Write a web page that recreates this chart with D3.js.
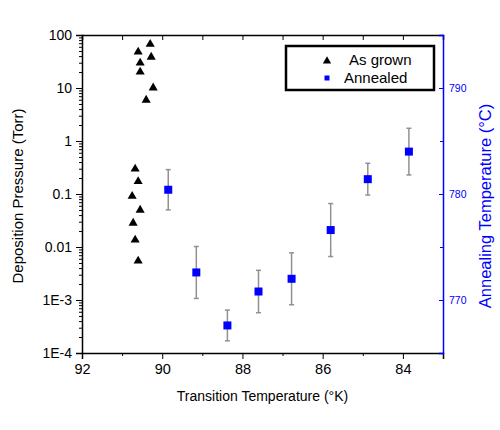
<!DOCTYPE html>
<html>
<head>
<meta charset="utf-8">
<script src="https://cdn.jsdelivr.net/npm/d3@7"></script>
<style>
  body { margin: 0; background: #fff; }
  svg { display: block; font-family: "Liberation Sans", Arial, sans-serif; }
</style>
</head>
<body>
<svg id="chart" width="500" height="430"></svg>
<script>
// As grown samples: transition temperature (K) vs deposition pressure (Torr)
const grownT = [90.3, 90.6, 90.275, 90.55, 90.55, 90.225, 90.4, 90.675, 90.6, 90.75, 90.55, 90.725, 90.675, 90.6];
const grownP = [70, 50, 40, 31, 21, 10.5, 6.2, 0.31, 0.18, 0.095, 0.052, 0.0295, 0.0142, 0.0057];

// Annealed samples: transition temperature (K) vs annealing temperature (C) +/- error
const annT = [89.85, 89.15, 88.375, 87.6, 86.775, 85.8, 84.875, 83.85];
const annTemp = [780.4, 772.6, 767.6, 770.8, 772.0, 776.6, 781.4, 784.0];
const annErr = [1.9, 2.45, 1.45, 2.0, 2.45, 2.5, 1.5, 2.2];

// tick labels
const xTicks = [92, 90, 88, 86, 84];
const pTicks = [100, 10, 1, 0.1, 0.01, 0.001, 0.0001];
const pTickLabels = ["100", "10", "1", "0.1", "0.01", "1E-3", "1E-4"];
const rTicks = [770, 780, 790];

const svg = d3.select("#chart");
const pLeft = 82, pRight = 443, pTop = 35, pBottom = 353;

const x = d3.scaleLinear().domain([92, 83]).range([pLeft, pRight]);
const y = d3.scaleLog().domain([1e-4, 100]).range([pBottom, pTop]);
const yR = d3.scaleLinear().domain([765, 795]).range([pBottom, pTop]);

const blue = "#0000ff";

// bottom axis, major + minor
const gx = svg.append("g").attr("transform", `translate(0,${pBottom})`);
gx.call(d3.axisBottom(x).tickValues(xTicks).tickSize(6).tickPadding(5).tickFormat(d3.format("d")));
svg.append("g").attr("transform", `translate(0,${pBottom})`)
  .call(d3.axisBottom(x).tickValues([91, 89, 87, 85]).tickSize(3).tickFormat(""))
  .call(g => g.select(".domain").remove());
gx.selectAll("text").attr("font-size", 14.5).attr("fill", "#000");

// top axis, inward ticks
svg.append("g").attr("transform", `translate(0,${pTop})`)
  .call(d3.axisTop(x).tickValues([91, 90, 89, 88, 87, 86, 85, 84]).tickSize(-5).tickFormat(""));

// left log axis
const gy = svg.append("g").attr("transform", `translate(${pLeft},0)`);
gy.call(d3.axisLeft(y).tickValues(pTicks).tickSize(6).tickPadding(4)
  .tickFormat((d, i) => pTickLabels[i]));
gy.selectAll("text").attr("font-size", 14).attr("fill", "#000");
const minor = y.ticks().filter(v => !pTicks.some(p => Math.abs(v / p - 1) < 1e-6));
svg.append("g").attr("transform", `translate(${pLeft},0)`)
  .call(d3.axisLeft(y).tickValues(minor).tickSize(3).tickFormat(""))
  .call(g => g.select(".domain").remove());

// right axis (annealing temperature), inward ticks
const gr = svg.append("g").attr("class", "raxis").attr("transform", `translate(${pRight},0)`);
gr.call(d3.axisRight(yR).tickValues(rTicks).tickSize(-4).tickPadding(6).tickFormat(d3.format("d")));
svg.append("g").attr("class", "raxis").attr("transform", `translate(${pRight},0)`)
  .call(d3.axisRight(yR).tickValues([775, 785]).tickSize(-3).tickFormat(""))
  .call(g => g.select(".domain").remove());
gr.selectAll("text").attr("font-size", 10.5).attr("fill", blue);
svg.selectAll(".raxis").selectAll("path, line").attr("stroke", blue);

svg.selectAll(".domain").attr("stroke-width", 1.5);

// axis titles
svg.append("text")
  .attr("transform", `translate(${pLeft + (pRight - pLeft) / 2},401)`)
  .attr("text-anchor", "middle").attr("font-size", 14)
  .text("Transition Temperature (°K)");

svg.append("text")
  .attr("transform", "translate(23,196) rotate(-90)")
  .attr("text-anchor", "middle").attr("font-size", 15)
  .text("Deposition Pressure (Torr)");

svg.append("text")
  .attr("transform", "translate(491,206) rotate(-90)")
  .attr("text-anchor", "middle").attr("font-size", 16.5).attr("fill", blue)
  .text("Annealing Temperature (°C)");

// as grown triangles
const tri = d3.symbol().type(d3.symbolTriangle).size(36);
svg.append("g").selectAll("path")
  .data(grownT.map((t, i) => ({ t, p: grownP[i] })))
  .join("path")
  .attr("d", tri)
  .attr("transform", d => `translate(${x(d.t)},${y(d.p) + 1})`)
  .attr("fill", "#000");

// annealed squares with error bars
const ann = annT.map((t, i) => ({ t, v: annTemp[i], e: annErr[i] }));
const eb = svg.append("g").attr("stroke", "#919191").attr("stroke-width", 1.5);
ann.forEach(d => {
  const cx = x(d.t);
  eb.append("line").attr("x1", cx).attr("x2", cx).attr("y1", yR(d.v + d.e)).attr("y2", yR(d.v - d.e));
  eb.append("line").attr("x1", cx - 2.5).attr("x2", cx + 2.5).attr("y1", yR(d.v + d.e)).attr("y2", yR(d.v + d.e));
  eb.append("line").attr("x1", cx - 2.5).attr("x2", cx + 2.5).attr("y1", yR(d.v - d.e)).attr("y2", yR(d.v - d.e));
});
svg.append("g").selectAll("rect")
  .data(ann)
  .join("rect")
  .attr("x", d => x(d.t) - 4)
  .attr("y", d => yR(d.v) - 4)
  .attr("width", 8).attr("height", 8)
  .attr("fill", blue);

// legend
const lg = svg.append("g");
lg.append("rect").attr("x", 286).attr("y", 46).attr("width", 148).attr("height", 44)
  .attr("fill", "#fff").attr("stroke", "#000").attr("stroke-width", 2.5);
lg.append("path").attr("d", d3.symbol().type(d3.symbolTriangle).size(30))
  .attr("transform", "translate(327,61)");
lg.append("rect").attr("x", 324.5).attr("y", 75.5).attr("width", 5).attr("height", 5).attr("fill", blue);
lg.append("text").attr("x", 349).attr("y", 65).attr("font-size", 15).text("As grown");
lg.append("text").attr("x", 344).attr("y", 83).attr("font-size", 15).text("Annealed");
</script>
</body>
</html>
